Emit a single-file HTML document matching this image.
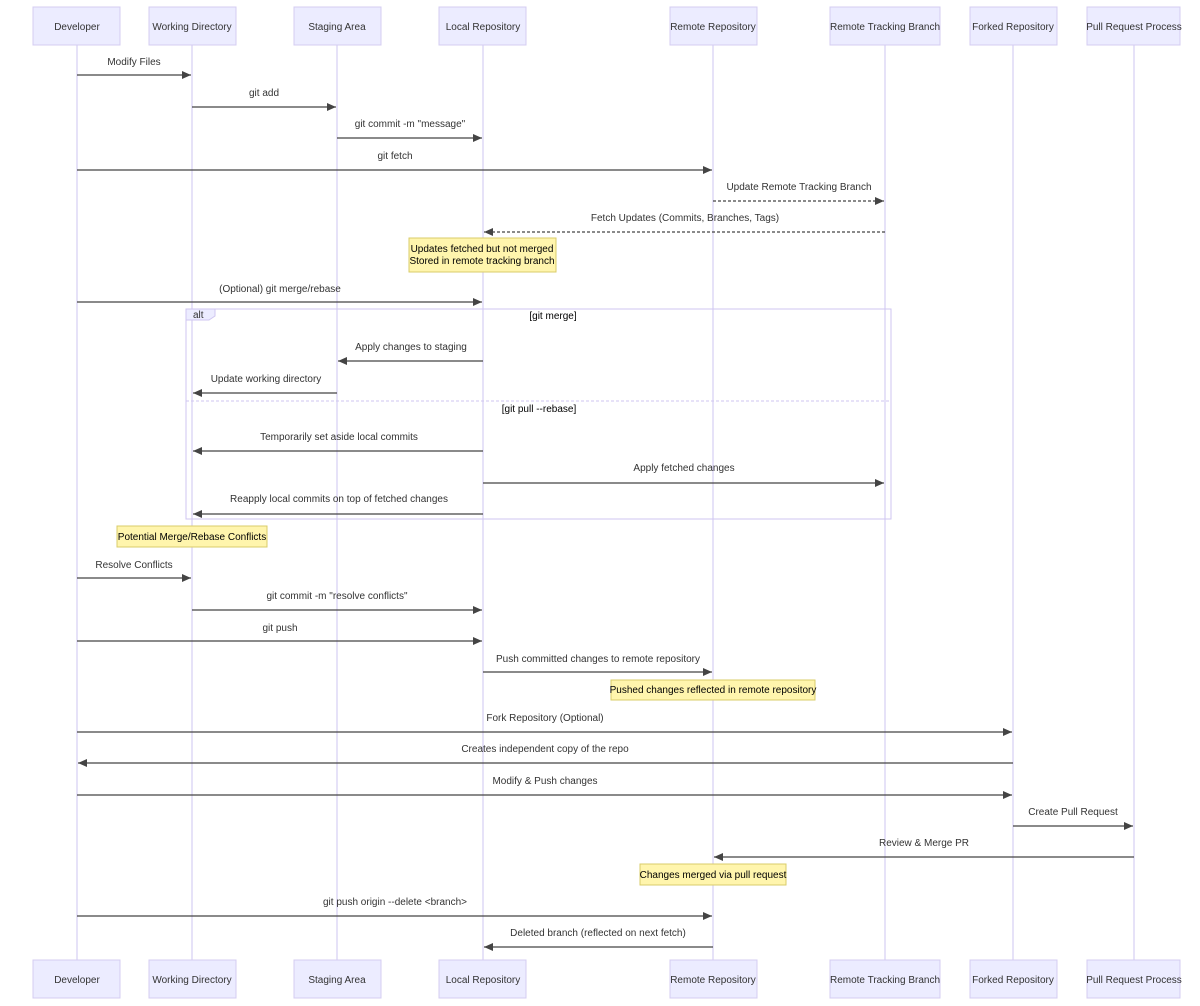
<!DOCTYPE html>
<html><head><meta charset="utf-8"><style>
html,body{margin:0;padding:0;background:#fff;}
svg{display:block;}
text{font-family:"Liberation Sans",sans-serif;font-size:10px;fill:#333;}
.act rect{fill:#ECECFF;stroke:#d4ccf2;stroke-width:1;}
.ll{stroke:#d6cff3;stroke-width:1.2;}
.m{stroke:#444;stroke-width:1.2;fill:none;}
.d{stroke:#444;stroke-width:1.2;fill:none;stroke-dasharray:3,2;}
.note{fill:#fff5ad;stroke:#d9cc6a;}
</style></head><body>
<svg width="1200" height="1006" viewBox="0 0 1200 1006" xmlns="http://www.w3.org/2000/svg">
<defs><marker id="a" markerWidth="10" markerHeight="8" refX="9" refY="4" orient="auto" markerUnits="userSpaceOnUse"><path d="M0,0 L9,4 L0,8 z" fill="#444"/></marker></defs>
<g>
<line class="ll" x1="77" y1="45" x2="77" y2="960"/>
<line class="ll" x1="192" y1="45" x2="192" y2="960"/>
<line class="ll" x1="337" y1="45" x2="337" y2="960"/>
<line class="ll" x1="483" y1="45" x2="483" y2="960"/>
<line class="ll" x1="713" y1="45" x2="713" y2="960"/>
<line class="ll" x1="885" y1="45" x2="885" y2="960"/>
<line class="ll" x1="1013" y1="45" x2="1013" y2="960"/>
<line class="ll" x1="1134" y1="45" x2="1134" y2="960"/>
</g>
<g class="act" text-anchor="middle">
<rect x="33" y="7" width="87" height="38"/><text x="77" y="30">Developer</text>
<rect x="149" y="7" width="87" height="38"/><text x="192" y="30">Working Directory</text>
<rect x="294" y="7" width="87" height="38"/><text x="337" y="30">Staging Area</text>
<rect x="439" y="7" width="87" height="38"/><text x="483" y="30">Local Repository</text>
<rect x="670" y="7" width="87" height="38"/><text x="713" y="30">Remote Repository</text>
<rect x="830" y="7" width="110" height="38"/><text x="885" y="30">Remote Tracking Branch</text>
<rect x="970" y="7" width="87" height="38"/><text x="1013" y="30">Forked Repository</text>
<rect x="1087" y="7" width="93" height="38"/><text x="1134" y="30">Pull Request Process</text>
<rect x="33" y="960" width="87" height="38"/><text x="77" y="983">Developer</text>
<rect x="149" y="960" width="87" height="38"/><text x="192" y="983">Working Directory</text>
<rect x="294" y="960" width="87" height="38"/><text x="337" y="983">Staging Area</text>
<rect x="439" y="960" width="87" height="38"/><text x="483" y="983">Local Repository</text>
<rect x="670" y="960" width="87" height="38"/><text x="713" y="983">Remote Repository</text>
<rect x="830" y="960" width="110" height="38"/><text x="885" y="983">Remote Tracking Branch</text>
<rect x="970" y="960" width="87" height="38"/><text x="1013" y="983">Forked Repository</text>
<rect x="1087" y="960" width="93" height="38"/><text x="1134" y="983">Pull Request Process</text>
</g>
<!-- alt box -->
<rect x="186" y="309" width="705" height="210" fill="none" stroke="#cfc6f0"/>
<path d="M186,309 H215 V316 L209,320 H186 z" fill="#ECECFF" stroke="#cfc6f0"/>
<text x="193" y="318">alt</text>
<text x="553" y="319" text-anchor="middle" style="fill:#000">[git merge]</text>
<line x1="186" y1="401" x2="891" y2="401" stroke="#cfc6f0" stroke-dasharray="3,2"/>
<text x="539" y="412" text-anchor="middle" style="fill:#000">[git pull --rebase]</text>
<!-- messages -->
<g text-anchor="middle">
<line class="m" x1="77" y1="75" x2="191" y2="75" marker-end="url(#a)"/><text x="134" y="65">Modify Files</text>
<line class="m" x1="192" y1="107" x2="336" y2="107" marker-end="url(#a)"/><text x="264" y="96">git add</text>
<line class="m" x1="337" y1="138" x2="482" y2="138" marker-end="url(#a)"/><text x="410" y="127">git commit -m "message"</text>
<line class="m" x1="77" y1="170" x2="712" y2="170" marker-end="url(#a)"/><text x="395" y="159">git fetch</text>
<line class="d" x1="713" y1="201" x2="884" y2="201" marker-end="url(#a)"/><text x="799" y="190">Update Remote Tracking Branch</text>
<line class="d" x1="885" y1="232" x2="484" y2="232" marker-end="url(#a)"/><text x="685" y="221">Fetch Updates (Commits, Branches, Tags)</text>
<line class="m" x1="77" y1="302" x2="482" y2="302" marker-end="url(#a)"/><text x="280" y="292">(Optional) git merge/rebase</text>
<line class="m" x1="483" y1="361" x2="338" y2="361" marker-end="url(#a)"/><text x="411" y="350">Apply changes to staging</text>
<line class="m" x1="337" y1="393" x2="193" y2="393" marker-end="url(#a)"/><text x="266" y="382">Update working directory</text>
<line class="m" x1="483" y1="451" x2="193" y2="451" marker-end="url(#a)"/><text x="339" y="440">Temporarily set aside local commits</text>
<line class="m" x1="483" y1="483" x2="884" y2="483" marker-end="url(#a)"/><text x="684" y="471">Apply fetched changes</text>
<line class="m" x1="483" y1="514" x2="193" y2="514" marker-end="url(#a)"/><text x="339" y="502">Reapply local commits on top of fetched changes</text>
<line class="m" x1="77" y1="578" x2="191" y2="578" marker-end="url(#a)"/><text x="134" y="568">Resolve Conflicts</text>
<line class="m" x1="192" y1="610" x2="482" y2="610" marker-end="url(#a)"/><text x="337" y="599">git commit -m "resolve conflicts"</text>
<line class="m" x1="77" y1="641" x2="482" y2="641" marker-end="url(#a)"/><text x="280" y="631">git push</text>
<line class="m" x1="483" y1="672" x2="712" y2="672" marker-end="url(#a)"/><text x="598" y="662">Push committed changes to remote repository</text>
<line class="m" x1="77" y1="732" x2="1012" y2="732" marker-end="url(#a)"/><text x="545" y="721">Fork Repository (Optional)</text>
<line class="m" x1="1013" y1="763" x2="78" y2="763" marker-end="url(#a)"/><text x="545" y="752">Creates independent copy of the repo</text>
<line class="m" x1="77" y1="795" x2="1012" y2="795" marker-end="url(#a)"/><text x="545" y="784">Modify &amp; Push changes</text>
<line class="m" x1="1013" y1="826" x2="1133" y2="826" marker-end="url(#a)"/><text x="1073" y="815">Create Pull Request</text>
<line class="m" x1="1134" y1="857" x2="714" y2="857" marker-end="url(#a)"/><text x="924" y="846">Review &amp; Merge PR</text>
<line class="m" x1="77" y1="916" x2="712" y2="916" marker-end="url(#a)"/><text x="395" y="905">git push origin --delete &lt;branch&gt;</text>
<line class="m" x1="713" y1="947" x2="484" y2="947" marker-end="url(#a)"/><text x="598" y="936">Deleted branch (reflected on next fetch)</text>
</g>
<!-- notes -->
<g text-anchor="middle">
<rect class="note" x="409" y="238" width="147" height="34"/>
<text x="482" y="252" style="fill:#000">Updates fetched but not merged</text>
<text x="482" y="264" style="fill:#000">Stored in remote tracking branch</text>
<rect class="note" x="117" y="526" width="150" height="21"/>
<text x="192" y="540" style="fill:#000">Potential Merge/Rebase Conflicts</text>
<rect class="note" x="611" y="680" width="204" height="20"/>
<text x="713" y="693" style="fill:#000">Pushed changes reflected in remote repository</text>
<rect class="note" x="640" y="864" width="146" height="21"/>
<text x="713" y="878" style="fill:#000">Changes merged via pull request</text>
</g>
</svg>
</body></html>
